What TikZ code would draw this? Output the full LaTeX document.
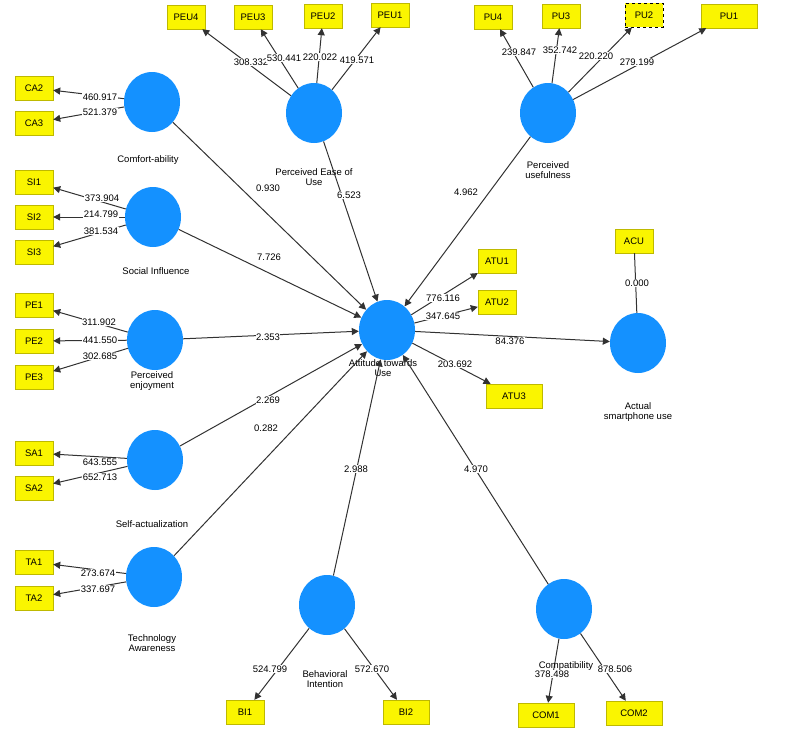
\documentclass[tikz,border=0pt]{standalone}
\usepackage{fontspec}
\setmainfont{Liberation Sans}
\usetikzlibrary{shapes.geometric,arrows.meta}
\definecolor{lv}{RGB}{20,145,255}
\definecolor{ybox}{RGB}{250,245,0}
\definecolor{ybord}{RGB}{190,185,0}
\definecolor{ln}{RGB}{50,50,50}
\begin{document}
\begin{tikzpicture}[x=1pt,y=-1pt,font=\fontsize{9.5}{10}\selectfont,
 lat/.style={ellipse,fill=lv,minimum width=56pt,minimum height=60pt,inner sep=0pt},
 ind/.style={draw=ybord,fill=ybox,minimum width=38pt,minimum height=24pt,inner sep=0pt},
 lab/.style={align=center,inner sep=0pt},
 val/.style={fill=white,inner sep=0.5pt},
 arr/.style={draw=ln,line width=1pt,-{Triangle[length=7pt,width=7pt]}},
 pl/.style={draw=ln,line width=1pt}]
\useasboundingbox (0,0) rectangle (795,737);
% latent variables
\node[lat] (ca) at (152,102) {};
\node[lat] (peu) at (314,113) {};
\node[lat] (pu) at (548,113) {};
\node[lat] (si) at (153,217) {};
\node[lat] (pe) at (155,340) {};
\node[lat] (sa) at (155,460) {};
\node[lat] (ta) at (154,577) {};
\node[lat] (atu) at (387,330) {};
\node[lat] (acu) at (638,343) {};
\node[lat] (bi) at (327,605) {};
\node[lat] (com) at (564,609) {};
% indicators
\node[ind] (peu4) at (186,17) {PEU4};
\node[ind] (peu3) at (253,17) {PEU3};
\node[ind] (peu2) at (323,16) {PEU2};
\node[ind] (peu1) at (390,15) {PEU1};
\node[ind] (pu4) at (493,17) {PU4};
\node[ind] (pu3) at (561,16) {PU3};
\node[ind,draw=black,dashed,thick] (pu2) at (644,15) {PU2};
\node[ind,minimum width=56pt] (pu1) at (729,16) {PU1};
\node[ind] (ca2) at (34,88) {CA2};
\node[ind] (ca3) at (34,123) {CA3};
\node[ind] (si1) at (34,182) {SI1};
\node[ind] (si2) at (34,217) {SI2};
\node[ind] (si3) at (34,252) {SI3};
\node[ind] (pe1) at (34,305) {PE1};
\node[ind] (pe2) at (34,341) {PE2};
\node[ind] (pe3) at (34,377) {PE3};
\node[ind] (sa1) at (34,453) {SA1};
\node[ind] (sa2) at (34,488) {SA2};
\node[ind] (ta1) at (34,562) {TA1};
\node[ind] (ta2) at (34,598) {TA2};
\node[ind] (atu1) at (497,261) {ATU1};
\node[ind] (atu2) at (497,302) {ATU2};
\node[ind,minimum width=56pt] (atu3) at (514,396) {ATU3};
\node[ind] (acub) at (634,241) {ACU};
\node[ind] (bi1) at (245,712) {BI1};
\node[ind,minimum width=46pt] (bi2) at (406,712) {BI2};
\node[ind,minimum width=56pt] (com1) at (546,715) {COM1};
\node[ind,minimum width=56pt] (com2) at (634,713) {COM2};
% construct labels
\node[lab] (lca) at (148,160) {Comfort-ability};
\node[lab] (lpeu) at (314,177) {Perceived Ease of\\Use};
\node[lab] (lpu) at (548,170) {Perceived\\usefulness};
\node[lab] (lsi) at (156,271) {Social Influence};
\node[lab] (lpe) at (152,381) {Perceived\\enjoyment};
\node[lab] (lsa) at (152,524) {Self-actualization};
\node[lab] (lta) at (152,643) {Technology\\Awareness};
\node[lab] (latu) at (383,368) {Attitude towards\\Use};
\node[lab] (lacu) at (638,412) {Actual\\smartphone use};
% outer loadings
\foreach \a/\b in {peu/peu4,peu/peu3,peu/peu2,peu/peu1,pu/pu4,pu/pu3,pu/pu2,pu/pu1,
 ca/ca2,ca/ca3,si/si1,si/si2,si/si3,pe/pe1,pe/pe2,pe/pe3,sa/sa1,sa/sa2,ta/ta1,ta/ta2,
 atu/atu1,atu/atu2,atu/atu3,bi/bi1,bi/bi2,com/com1,com/com2}
 \draw[arr] (\a) -- (\b);
% structural paths
\foreach \a in {ca,peu,pu,si,pe,sa,ta,bi,com}
 \draw[arr] (\a) -- (atu);
\draw[arr] (atu) -- (acu);
\draw[pl] (acub) -- (acu);
% values
\node[val] (v1) at (251,62) {308.332};
\node[val] (v2) at (284,58) {530.441};
\node[val] (v3) at (320,57) {220.022};
\node[val] (v4) at (357,60) {419.571};
\node[val] (v5) at (519,52) {239.847};
\node[val] (v6) at (560,50) {352.742};
\node[val] (v7) at (596,56) {220.220};
\node[val] (v8) at (637,62) {279.199};
\node[val] (v9) at (100,97) {460.917};
\node[val] (v10) at (100,112) {521.379};
\node[val] (v11) at (102,198) {373.904};
\node[val] (v12) at (101,214) {214.799};
\node[val] (v13) at (101,231) {381.534};
\node[val] (v14) at (99,322) {311.902};
\node[val] (v15) at (100,340) {441.550};
\node[val] (v16) at (100,356) {302.685};
\node[val] (v17) at (100,462) {643.555};
\node[val] (v18) at (100,477) {652.713};
\node[val] (v19) at (98,573) {273.674};
\node[val] (v20) at (98,589) {337.697};
\node[val] (v21) at (443,298) {776.116};
\node[val] (v22) at (443,316) {347.645};
\node[val] (v23) at (455,364) {203.692};
\node[val] (v24) at (510,341) {84.376};
\node[val] (v25) at (637,283) {0.000};
\node[val] (v26) at (270,669) {524.799};
\node[val] (v27) at (372,669) {572.670};
\node[val] (v28) at (552,674) {378.498};
\node[val] (v29) at (615,669) {878.506};
\node[val] (p1) at (268,188) {0.930};
\node[val] (p2) at (349,195) {6.523};
\node[val] (p3) at (466,192) {4.962};
\node[val] (p4) at (269,257) {7.726};
\node[val] (p5) at (268,337) {2.353};
\node[val] (p6) at (268,400) {2.269};
\node[val] (p7) at (266,428) {0.282};
\node[val] (p8) at (356,469) {2.988};
\node[val] (p9) at (476,469) {4.970};
\node[lab] (lbi) at (325,679) {Behavioral\\Intention};
\node[lab] (lcom) at (566,666) {Compatibility};
\end{tikzpicture}
\end{document}
